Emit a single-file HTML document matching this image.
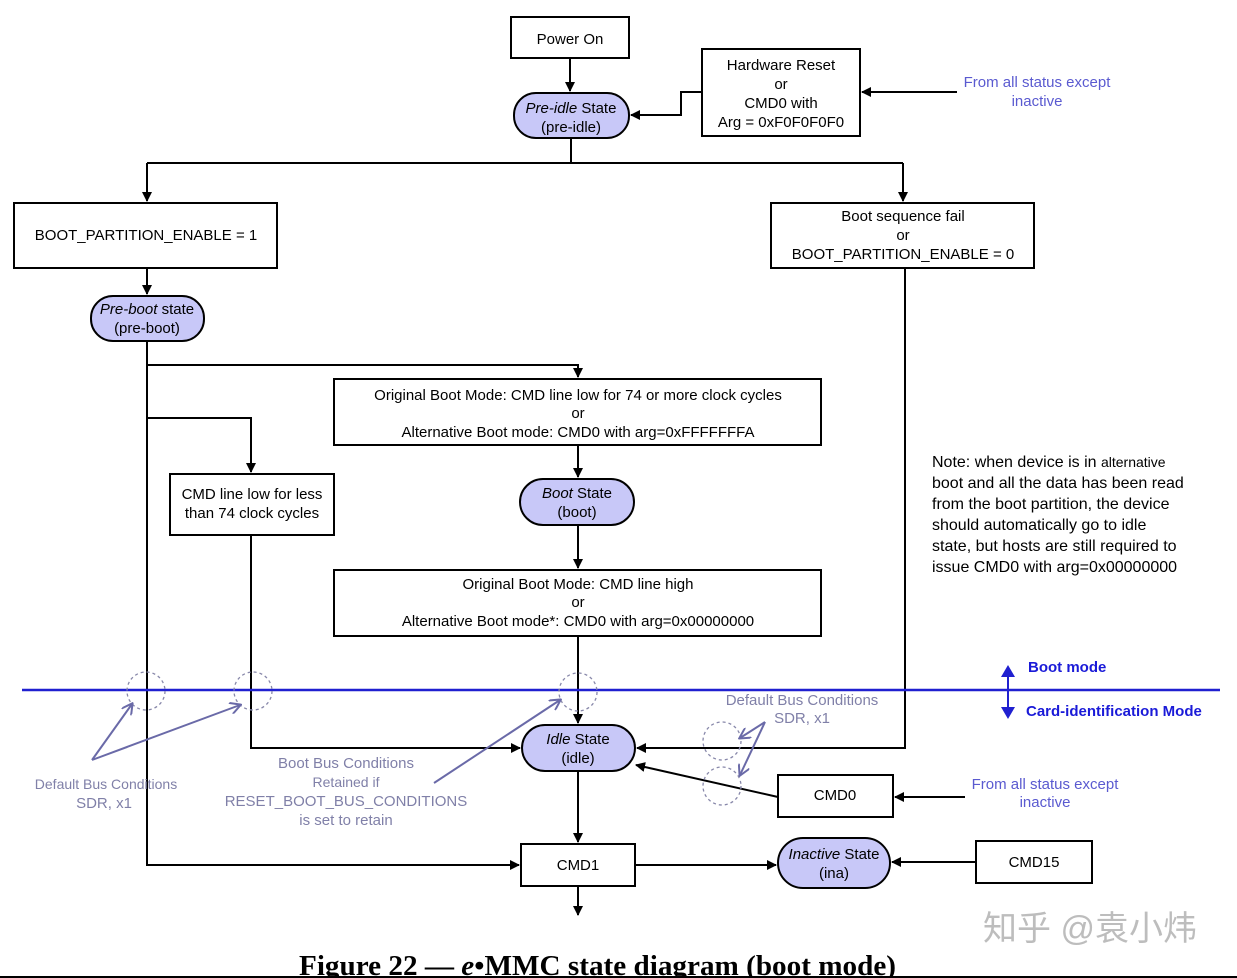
<!DOCTYPE html>
<html><head><meta charset="utf-8"><style>
html,body{margin:0;padding:0;background:#fff;}
svg{display:block;font-family:"Liberation Sans",Arial,sans-serif;}
</style></head><body>
<svg width="1237" height="978" viewBox="0 0 1237 978" xmlns="http://www.w3.org/2000/svg">
<defs>
<marker id="a" markerWidth="10" markerHeight="10" refX="9" refY="5" orient="auto" markerUnits="userSpaceOnUse"><path d="M0,0 L10,5 L0,10 Z" fill="#000"/></marker>
<marker id="b" markerWidth="12" markerHeight="12" refX="10" refY="6" orient="auto" markerUnits="userSpaceOnUse"><path d="M0,0 L11,6 L0,12" fill="none" stroke="#6a6aa8" stroke-width="2"/></marker>
<marker id="c" markerWidth="12" markerHeight="14" refX="10" refY="7" orient="auto" markerUnits="userSpaceOnUse"><path d="M0,0 L12,7 L0,14 Z" fill="#2020d0"/></marker>
</defs>
<g fill="none" stroke="#000" stroke-width="2">
<rect x="511" y="17" width="118" height="41" fill="#fff"/>
<rect x="702" y="49" width="158" height="87" fill="#fff"/>
<rect x="14" y="203" width="263" height="65" fill="#fff"/>
<rect x="771" y="203" width="263" height="65" fill="#fff"/>
<rect x="334" y="379" width="487" height="66" fill="#fff"/>
<rect x="170" y="474" width="164" height="61" fill="#fff"/>
<rect x="334" y="570" width="487" height="66" fill="#fff"/>
<rect x="778" y="775" width="115" height="42" fill="#fff"/>
<rect x="521" y="844" width="114" height="42" fill="#fff"/>
<rect x="976" y="841" width="116" height="42" fill="#fff"/>
<path d="M570 58 V91" marker-end="url(#a)"/>
<path d="M702 92 H681 V115 H631" marker-end="url(#a)"/>
<path d="M957 92 H862" marker-end="url(#a)"/>
<path d="M571 138 V163"/>
<path d="M147 163 H903"/>
<path d="M147 163 V201" marker-end="url(#a)"/>
<path d="M903 163 V201" marker-end="url(#a)"/>
<path d="M147 268 V294" marker-end="url(#a)"/>
<path d="M147 341 V865 H519" marker-end="url(#a)"/>
<path d="M147 365 H578 V377" marker-end="url(#a)"/>
<path d="M147 418 H251 V472" marker-end="url(#a)"/>
<path d="M578 445 V477" marker-end="url(#a)"/>
<path d="M578 525 V568" marker-end="url(#a)"/>
<path d="M578 636 V723" marker-end="url(#a)"/>
<path d="M251 535 V748 H520" marker-end="url(#a)"/>
<path d="M905 268 V748 H637" marker-end="url(#a)"/>
<path d="M778 797 L636 765" marker-end="url(#a)"/>
<path d="M965 797 H895" marker-end="url(#a)"/>
<path d="M578 771 V842" marker-end="url(#a)"/>
<path d="M578 886 V915" marker-end="url(#a)"/>
<path d="M635 865 H776" marker-end="url(#a)"/>
<path d="M976 862 H892" marker-end="url(#a)"/>
</g>
<g fill="#c8c8f8" stroke="#000" stroke-width="2">
<rect x="514" y="93" width="115" height="45" rx="22"/>
<rect x="91" y="296" width="113" height="45" rx="22"/>
<rect x="520" y="479" width="114" height="46" rx="23"/>
<rect x="522" y="725" width="113" height="46" rx="23"/>
<rect x="778" y="838" width="112" height="50" rx="25"/>
</g>
<line x1="22" y1="690" x2="1220" y2="690" stroke="#2020d0" stroke-width="2.5"/>
<line x1="1008" y1="690" x2="1008" y2="667" stroke="#2020d0" stroke-width="2" marker-end="url(#c)"/>
<line x1="1008" y1="690" x2="1008" y2="717" stroke="#2020d0" stroke-width="2" marker-end="url(#c)"/>
<g fill="none" stroke="#8888aa" stroke-width="1.3" stroke-dasharray="3,3">
<circle cx="146" cy="691" r="19"/><circle cx="253" cy="691" r="19"/><circle cx="578" cy="692" r="19"/>
<circle cx="722" cy="741" r="19"/><circle cx="722" cy="786" r="19"/>
</g>
<g fill="none" stroke="#6a6aa8" stroke-width="2">
<path d="M92 760 L132 704" marker-end="url(#b)"/>
<path d="M92 760 L240 705" marker-end="url(#b)"/>
<path d="M434 783 L560 700" marker-end="url(#b)"/>
<path d="M765 722 L740 738" marker-end="url(#b)"/>
<path d="M765 722 L740 775" marker-end="url(#b)"/>
</g>
<g font-size="15" fill="#000" text-anchor="middle">
<text x="570" y="44">Power On</text>
<text x="781" y="70">Hardware Reset</text>
<text x="781" y="89">or</text>
<text x="781" y="108">CMD0 with</text>
<text x="781" y="127">Arg = 0xF0F0F0F0</text>
<text x="571" y="113"><tspan font-style="italic">Pre-idle</tspan> State</text>
<text x="571" y="132">(pre-idle)</text>
<text x="146" y="240">BOOT_PARTITION_ENABLE = 1</text>
<text x="903" y="221">Boot sequence fail</text>
<text x="903" y="240">or</text>
<text x="903" y="259">BOOT_PARTITION_ENABLE = 0</text>
<text x="147" y="314"><tspan font-style="italic">Pre-boot</tspan> state</text>
<text x="147" y="333">(pre-boot)</text>
<text x="578" y="400">Original Boot Mode: CMD line low for 74 or more clock cycles</text>
<text x="578" y="418">or</text>
<text x="578" y="437">Alternative Boot mode: CMD0 with arg=0xFFFFFFFA</text>
<text x="252" y="499">CMD line low for less</text>
<text x="252" y="518">than 74 clock cycles</text>
<text x="577" y="498"><tspan font-style="italic">Boot</tspan> State</text>
<text x="577" y="517">(boot)</text>
<text x="578" y="589">Original Boot Mode: CMD line high</text>
<text x="578" y="607">or</text>
<text x="578" y="626">Alternative Boot mode*: CMD0 with arg=0x00000000</text>
<text x="578" y="744"><tspan font-style="italic">Idle</tspan> State</text>
<text x="578" y="763">(idle)</text>
<text x="835" y="800">CMD0</text>
<text x="578" y="870">CMD1</text>
<text x="834" y="859"><tspan font-style="italic">Inactive</tspan> State</text>
<text x="834" y="878">(ina)</text>
<text x="1034" y="867">CMD15</text>
</g>
<g font-size="16" fill="#000">
<text x="932" y="467">Note: when device is in <tspan font-size="14">alternative</tspan></text>
<text x="932" y="488">boot and all the data has been read</text>
<text x="932" y="509">from the boot partition, the device</text>
<text x="932" y="530">should automatically go to idle</text>
<text x="932" y="551">state, but hosts are still required to</text>
<text x="932" y="572">issue CMD0 with arg=0x00000000</text>
</g>
<g font-size="15" fill="#5a5ad0" text-anchor="middle">
<text x="1037" y="87">From all status except</text>
<text x="1037" y="106">inactive</text>
<text x="1045" y="789">From all status except</text>
<text x="1045" y="807">inactive</text>
</g>
<g font-size="15" fill="#1a1ad8" font-weight="bold">
<text x="1028" y="672">Boot mode</text>
<text x="1026" y="716">Card-identification Mode</text>
</g>
<g font-size="15" fill="#8080a8" text-anchor="middle">
<text x="106" y="789" font-size="14">Default Bus Conditions</text>
<text x="104" y="808">SDR, x1</text>
<text x="346" y="768">Boot Bus Conditions</text>
<text x="346" y="787" font-size="14">Retained if</text>
<text x="346" y="806">RESET_BOOT_BUS_CONDITIONS</text>
<text x="346" y="825">is set to retain</text>
<text x="802" y="705">Default Bus Conditions</text>
<text x="802" y="723">SDR, x1</text>
</g>
<text x="1090" y="940" font-size="34" fill="#bdbdbd" text-anchor="middle" font-family="'Liberation Sans','Noto Sans CJK SC',sans-serif">知乎 @袁小炜</text>
<text x="299" y="975" font-size="28" font-weight="bold" textLength="597" lengthAdjust="spacingAndGlyphs" font-family="'Liberation Serif',serif">Figure 22 — <tspan font-style="italic">e</tspan>•MMC state diagram (boot mode)</text>
<line x1="0" y1="977" x2="1237" y2="977" stroke="#000" stroke-width="2"/>
</svg>
</body></html>
